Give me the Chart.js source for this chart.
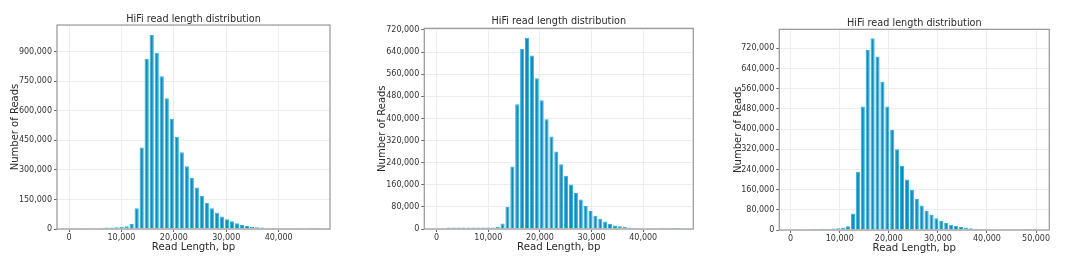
<!DOCTYPE html>
<html>
<head>
<meta charset="utf-8">
<script src="https://cdn.jsdelivr.net/npm/chart.js@4.4.1/dist/chart.umd.min.js"></script>
<style>
  html, body { margin: 0; padding: 0; background: #fff; }
  body { width: 1080px; height: 256px; position: relative; overflow: hidden; }
  canvas { position: absolute; top: 0; }
</style>
</head>
<body>
<canvas id="c1" width="350" height="256" style="left:0px"></canvas>
<canvas id="c2" width="345" height="256" style="left:360px"></canvas>
<canvas id="c3" width="360" height="256" style="left:720px"></canvas>
<script>
// histogram bins: first edge + bin width (bp), 50 bins each
const bins1 = { start: 0, width: 956 };
const bins2 = { start: 0, width: 946 };
const bins3 = { start: 200, width: 1000 };

const counts1 = [500, 1500, 3000, 3500, 4000, 4000, 5000, 7000, 8000, 9000,
  10000, 14000, 25000, 105000, 413000, 864000, 984000, 895000, 775000, 663000,
  560000, 467000, 389000, 319000, 260000, 211000, 169000, 133000, 105000, 82000,
  64000, 50000, 39000, 29000, 20000, 15000, 11000, 9000, 7000, 5000,
  4000, 3500, 3000, 2500, 2000, 1500, 1000, 700, 400, 200];

const counts2 = [500, 3000, 5200, 5500, 5600, 5400, 5500, 5300, 5600, 5500,
  5400, 5800, 7000, 20000, 80000, 226000, 451000, 652000, 692000, 628000,
  545000, 466000, 397000, 335000, 280000, 234000, 193000, 161000, 130000, 107000,
  83000, 65000, 48000, 37000, 27000, 19000, 13000, 9500, 7000, 5000,
  4000, 3000, 2000, 1500, 1000, 700, 400, 200, 100, 100];

const counts3 = [500, 1500, 2000, 3000, 3500, 4000, 4500, 5000, 6000, 7000,
  9000, 15000, 65000, 231000, 489000, 713000, 760000, 687000, 587000, 489000,
  396000, 320000, 255000, 200000, 158000, 123000, 97000, 76000, 59000, 47000,
  36000, 28000, 21000, 16000, 12000, 9000, 7000, 5000, 4000, 3000,
  2500, 2000, 1500, 1200, 1000, 800, 500, 300, 200, 100];

// tick values
const xTicks1 = [0, 10000, 20000, 30000, 40000];
const xTicks2 = [0, 10000, 20000, 30000, 40000];
const xTicks3 = [0, 10000, 20000, 30000, 40000, 50000];
const yTicks1 = [0, 150000, 300000, 450000, 600000, 750000, 900000];
const yTicks2 = [0, 80000, 160000, 240000, 320000, 400000, 480000, 560000, 640000, 720000];
const yTicks3 = [0, 80000, 160000, 240000, 320000, 400000, 480000, 560000, 640000, 720000];

const titleText = "HiFi read length distribution";
const xTitle = "Read Length, bp";
const yTitle = "Number of Reads";

const font = "'DejaVu Sans', sans-serif";

// grey box round the plot area, like matplotlib spines
const frame = {
  id: "frame",
  afterDatasetsDraw(chart) {
    const a = chart.chartArea, ctx = chart.ctx;
    ctx.save();
    ctx.strokeStyle = "#9e9e9e";
    ctx.lineWidth = 1.3;
    ctx.strokeRect(a.left, a.top, a.right - a.left, a.bottom - a.top);
    ctx.restore();
  }
};

function histogram(id, bins, counts, xTicks, yTicks, p) {
  const points = counts.map((c, i) => ({ x: bins.start + bins.width * (i + 0.5), y: c }));
  return new Chart(document.getElementById(id), {
    type: "bar",
    data: {
      datasets: [{
        data: points,
        backgroundColor: "#108cbc",
        borderColor: "#2cb2dc",
        borderWidth: 1,
        barPercentage: 0.84,
        categoryPercentage: 1
      }]
    },
    options: {
      responsive: false,
      animation: false,
      layout: { padding: { left: 0, right: p.padRight, top: 0, bottom: 0 } },
      plugins: {
        legend: { display: false },
        tooltip: { enabled: false },
        title: {
          display: true,
          text: titleText,
          fullSize: false,
          color: "#2b2b2b",
          font: { family: font, size: 9.7, weight: "normal" },
          padding: { top: p.titleTop, bottom: p.titleBottom }
        }
      },
      scales: {
        x: {
          type: "linear",
          min: p.xMin,
          max: p.xMax,
          offset: false,
          afterBuildTicks: s => { s.ticks = xTicks.map(v => ({ value: v })); },
          afterFit: s => { s.height = p.xHeight; },
          grid: { offset: false, color: "#ededed", tickColor: "#666", tickLength: 3 },
          border: { display: false },
          ticks: {
            maxRotation: 0,
            autoSkip: false,
            padding: 1,
            color: "#333",
            font: { family: font, size: 8 },
            callback: v => v.toLocaleString("en-US")
          },
          title: {
            display: true,
            text: xTitle,
            color: "#2b2b2b",
            font: { family: font, size: 10.2 },
            padding: { top: 0, bottom: p.xTitlePad }
          }
        },
        y: {
          min: 0,
          max: p.yMax,
          afterBuildTicks: s => { s.ticks = yTicks.map(v => ({ value: v })); },
          afterFit: s => { s.width = p.yWidth; },
          grid: { color: "#ededed", tickColor: "#666", tickLength: 3 },
          border: { display: false },
          ticks: {
            autoSkip: false,
            padding: 2,
            color: "#333",
            font: { family: font, size: 8 },
            callback: v => v.toLocaleString("en-US")
          },
          title: {
            display: true,
            text: yTitle,
            color: "#2b2b2b",
            font: { family: font, size: 10 },
            padding: { top: p.yTitlePad, bottom: 0 }
          }
        }
      }
    },
    plugins: [frame]
  });
}

histogram("c1", bins1, counts1, xTicks1, yTicks1, {
  padRight: 20, yWidth: 57, xHeight: 27, titleTop: 13.2, titleBottom: 0.2,
  xMin: -2300, xMax: 49800, yMax: 1035000, xTitlePad: 3, yTitlePad: 9
});
histogram("c2", bins2, counts2, xTicks2, yTicks2, {
  padRight: 11.7, yWidth: 64.3, xHeight: 27, titleTop: 15.9, titleBottom: 0.8,
  xMin: -2390, xMax: 49700, yMax: 726000, xTitlePad: 2.2, yTitlePad: 16.7
});
histogram("c3", bins3, counts3, xTicks3, yTicks3, {
  padRight: 30.7, yWidth: 59.3, xHeight: 26, titleTop: 17.2, titleBottom: 0.5,
  xMin: -2310, xMax: 52700, yMax: 795000, xTitlePad: 2, yTitlePad: 12
});
</script>
</body>
</html>
